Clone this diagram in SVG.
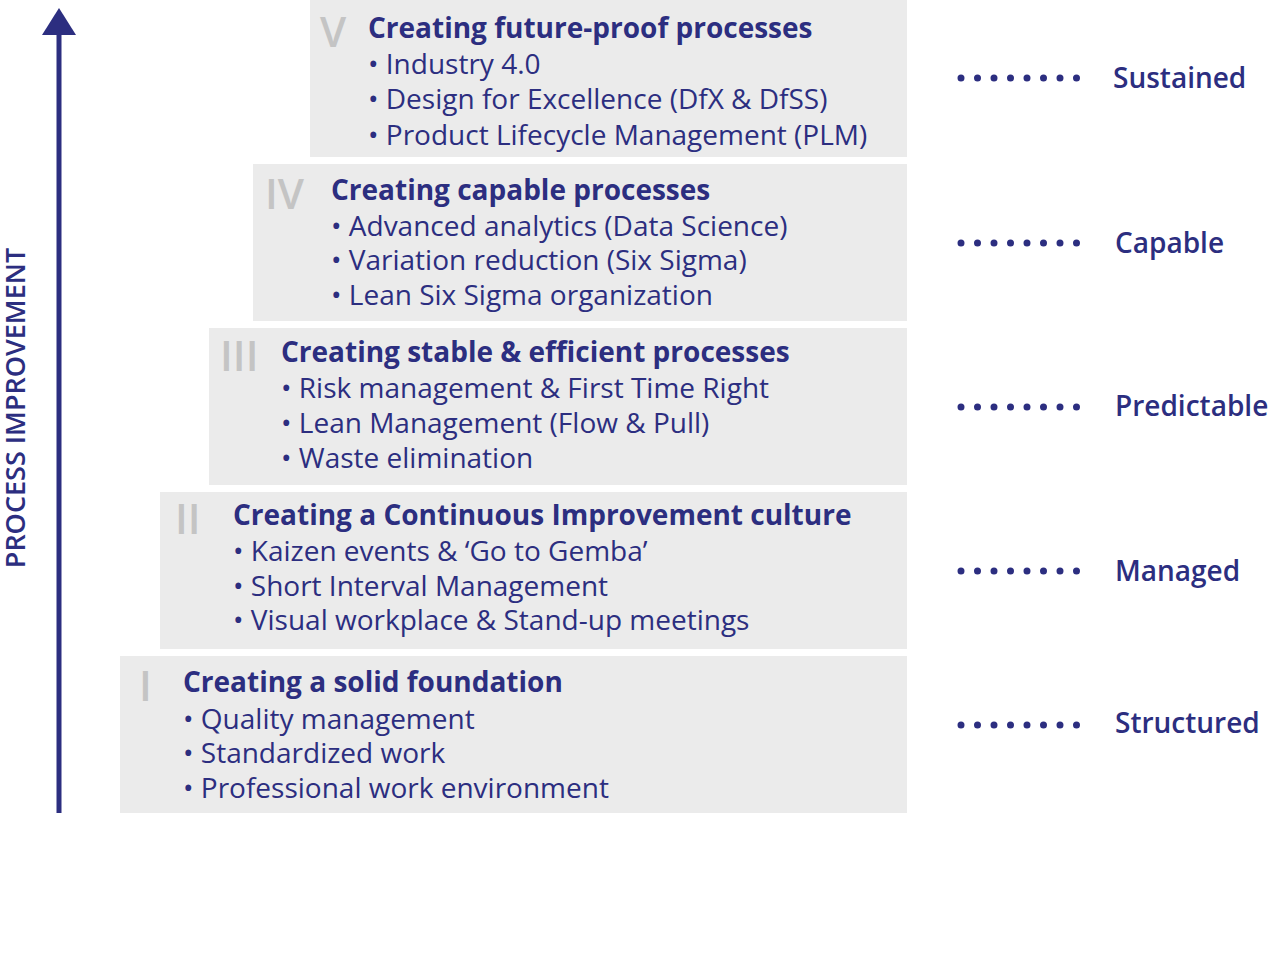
<svg xmlns="http://www.w3.org/2000/svg" width="1280" height="978" viewBox="0 0 1280 978">
<style>
.box{fill:#ebebeb}
.num{fill:#c4c4c4;font-family:"Open Sans",sans-serif;font-size:42px;font-weight:600}
.h{fill:#2c2e80;font-family:"Open Sans",sans-serif;font-size:28px;font-weight:bold}
.b{fill:#2c2e80;font-family:"Open Sans",sans-serif;font-size:28px}
.lbl{fill:#2c2e80;font-family:"Open Sans",sans-serif;font-size:28px;font-weight:600}
.dots{stroke:#2c2e80;stroke-width:7;stroke-linecap:round;stroke-dasharray:0 16.5}
</style>
<rect width="1280" height="978" fill="#fff"/>
<g id="connectors">
<line x1="59" y1="813" x2="59" y2="32" stroke="#2c2e80" stroke-width="5"/>
<polygon points="42,35 76,35 59,8" fill="#2c2e80"/>
<line class="dots" x1="961" y1="78" x2="1077" y2="78"/>
<line class="dots" x1="961" y1="243" x2="1077" y2="243"/>
<line class="dots" x1="961" y1="407" x2="1077" y2="407"/>
<line class="dots" x1="961" y1="571" x2="1077" y2="571"/>
<line class="dots" x1="961" y1="725" x2="1077" y2="725"/>
</g>
<text transform="translate(25,408) rotate(-90)" text-anchor="middle" fill="#2c2e80" font-family="'Open Sans',sans-serif" font-size="27" font-weight="600">PROCESS IMPROVEMENT</text>
<g id="level5">
<rect class="box" x="310" y="0" width="597" height="157"/>
<text class="num" x="320" y="47">V</text>
<text class="h" x="368" y="38">Creating future-proof processes</text>
<text class="b" x="368" y="74">• Industry 4.0</text>
<text class="b" x="368" y="109">• Design for Excellence (DfX &amp; DfSS)</text>
<text class="b" x="368" y="145">• Product Lifecycle Management (PLM)</text>
</g>
<g id="level4">
<rect class="box" x="253" y="164" width="654" height="157"/>
<text class="num" x="265" y="209">IV</text>
<text class="h" x="331" y="200">Creating capable processes</text>
<text class="b" x="331" y="236">• Advanced analytics (Data Science)</text>
<text class="b" x="331" y="270">• Variation reduction (Six Sigma)</text>
<text class="b" x="331" y="305">• Lean Six Sigma organization</text>
</g>
<g id="level3">
<rect class="box" x="209" y="328" width="698" height="157"/>
<text class="num" x="220" y="371">III</text>
<text class="h" x="281" y="362">Creating stable &amp; efficient processes</text>
<text class="b" x="281" y="398">• Risk management &amp; First Time Right</text>
<text class="b" x="281" y="433">• Lean Management (Flow &amp; Pull)</text>
<text class="b" x="281" y="468">• Waste elimination</text>
</g>
<g id="level2">
<rect class="box" x="160" y="492" width="747" height="157"/>
<text class="num" x="175" y="534">II</text>
<text class="h" x="233" y="525">Creating a Continuous Improvement culture</text>
<text class="b" x="233" y="561">• Kaizen events &amp; ‘Go to Gemba’</text>
<text class="b" x="233" y="596">• Short Interval Management</text>
<text class="b" x="233" y="630">• Visual workplace &amp; Stand-up meetings</text>
</g>
<g id="level1">
<rect class="box" x="120" y="656" width="787" height="157"/>
<text class="num" x="139" y="701">I</text>
<text class="h" x="183" y="692">Creating a solid foundation</text>
<text class="b" x="183" y="729">• Quality management</text>
<text class="b" x="183" y="763">• Standardized work</text>
<text class="b" x="183" y="798">• Professional work environment</text>
</g>
<g id="labels">
<text class="lbl" x="1113" y="88">Sustained</text>
<text class="lbl" x="1115" y="253">Capable</text>
<text class="lbl" x="1115" y="416">Predictable</text>
<text class="lbl" x="1115" y="581">Managed</text>
<text class="lbl" x="1115" y="733">Structured</text>
</g>
</svg>
